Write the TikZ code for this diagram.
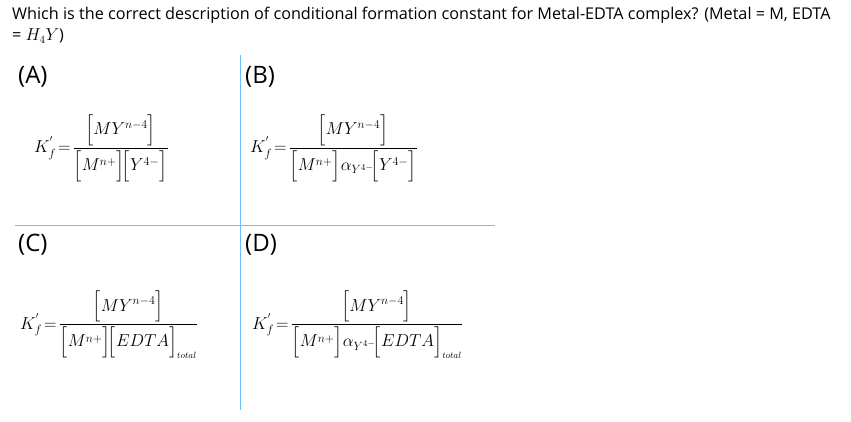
\documentclass[tikz,border=0pt]{standalone}
\usepackage{fontspec}
\setmainfont{Open Sans}
\usepackage{amsmath}
\begin{document}
\begin{tikzpicture}[x=1pt,y=-1pt,
  lab/.style={anchor=west,font=\fontsize{24}{28}\selectfont,inner sep=0},
  frm/.style={anchor=west,font=\fontsize{18}{22}\selectfont,inner sep=0},
  sep/.style={draw=blue!40!cyan!60,line width=1pt}]
\useasboundingbox[fill=white] (0,0) rectangle (851,421);
\node[anchor=north west,align=left,inner sep=0,font=\fontsize{16.2}{21}\selectfont] (t) at (12,7)
 {Which is the correct description of conditional formation constant for Metal-EDTA complex? (Metal = M, EDTA\\= $H_4Y$)};
\coordinate (v1) at (240,55); \coordinate (v2) at (240,410);
\coordinate (h1) at (15,225); \coordinate (h2) at (495,225);
\draw[sep] (v1)--(v2); \draw[sep] (h1)--(h2);
\node[lab] (A) at (18,77) {(A)};
\node[lab] (B) at (245,77) {(B)};
\node[lab] (C) at (18,245) {(C)};
\node[lab] (D) at (245,245) {(D)};
\node[frm] (fa) at (34,148) {$K_f^{'}\!=\!\dfrac{\Bigl[MY^{n-4}\Bigr]}{\Bigl[M^{n+}\Bigr]\!\Bigl[Y^{4-}\Bigr]}$};
\node[frm] (fb) at (250,148) {$K_f^{'}\!=\!\dfrac{\Bigl[MY^{n-4}\Bigr]}{\Bigl[M^{n+}\Bigr]\alpha_{Y^{4-}}\!\Bigl[Y^{4-}\Bigr]}$};
\node[frm] (fc) at (20,325) {$K_f^{'}\!=\!\dfrac{\Bigl[MY^{n-4}\Bigr]}{\Bigl[M^{n+}\Bigr]\!\Bigl[EDTA\Bigr]_{\scriptscriptstyle total}}$};
\node[frm] (fd) at (252,325) {$K_f^{'}\!=\!\dfrac{\Bigl[MY^{n-4}\Bigr]}{\Bigl[M^{n+}\Bigr]\alpha_{Y^{4-}}\!\Bigl[EDTA\Bigr]_{\scriptscriptstyle total}}$};
\end{tikzpicture}
\end{document}
